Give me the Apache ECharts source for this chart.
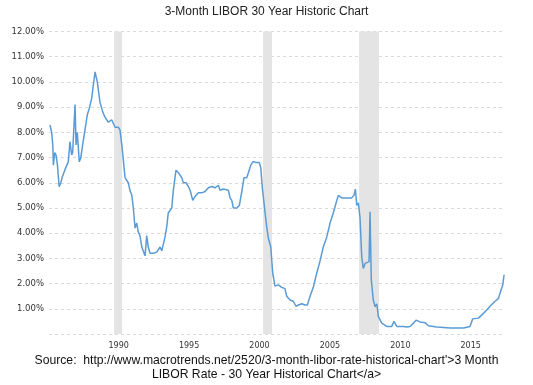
<!DOCTYPE html>
<html>
<head>
<meta charset="utf-8">
<script src="https://cdn.jsdelivr.net/npm/echarts@6/dist/echarts.min.js"></script>
<style>
  html, body { margin: 0; padding: 0; background: #fff; }
  #chart { width: 533px; height: 385px; }
</style>
</head>
<body>
<div id="chart"></div>
<script>
// Decimal-year positions of readings and 3-month LIBOR (%) values
var years = [
  1986.02, 1986.14, 1986.22, 1986.26, 1986.36, 1986.45, 1986.55, 1986.67, 1986.79, 1986.90,
  1987.02, 1987.14, 1987.32, 1987.44, 1987.56, 1987.63, 1987.80, 1987.87, 1987.96,
  1988.10, 1988.20, 1988.34, 1988.45, 1988.58, 1988.67, 1988.81, 1988.98,
  1989.06, 1989.22, 1989.38, 1989.57, 1989.77, 1989.93,
  1990.16, 1990.40, 1990.64, 1990.87, 1990.99,
  1991.12, 1991.23, 1991.35, 1991.47, 1991.58, 1991.70, 1991.83, 1991.94,
  1992.06, 1992.18, 1992.29, 1992.41, 1992.54, 1992.65, 1992.77, 1992.89,
  1993.00, 1993.13, 1993.36, 1993.60, 1993.71, 1993.84, 1993.96,
  1994.07, 1994.19, 1994.31, 1994.42, 1994.55, 1994.67, 1994.78, 1994.97,
  1995.14, 1995.38, 1995.49, 1995.68, 1995.85, 1995.97,
  1996.16, 1996.32, 1996.56, 1996.80,
  1997.03, 1997.15, 1997.27, 1997.51, 1997.74, 1997.98,
  1998.10, 1998.33, 1998.69, 1998.81, 1998.93,
  1999.04, 1999.28, 1999.47, 1999.64, 1999.80, 1999.99,
  2000.11, 2000.28, 2000.46, 2000.65, 2000.89, 2000.99,
  2001.10, 2001.29, 2001.41, 2001.53, 2001.70, 2001.84,
  2002.00, 2002.12, 2002.24, 2002.48, 2002.71, 2002.83,
  2003.07, 2003.30, 2003.49, 2003.66, 2003.90,
  2004.13, 2004.30, 2004.49, 2004.72, 2004.96,
  2005.20, 2005.43, 2005.68, 2005.91,
  2006.14, 2006.39, 2006.50, 2006.74,
  2007.10, 2007.45, 2007.61, 2007.71, 2007.81, 2007.92,
  2008.04, 2008.16, 2008.27, 2008.40, 2008.52, 2008.68, 2008.75, 2008.84, 2008.98,
  2009.11, 2009.23, 2009.34, 2009.58, 2009.94,
  2010.29, 2010.45, 2010.65,
  2011.12, 2011.36, 2011.59, 2011.83,
  2012.02, 2012.30, 2012.66, 2012.89,
  2013.49, 2014.43, 2015.38, 2015.85,
  2016.04, 2016.44, 2016.68,
  2017.04, 2017.27, 2017.63, 2017.86,
  2018.03, 2018.18, 2018.27
];
var rates = [
  8.29, 8.0, 7.5, 6.7, 7.2, 7.1, 6.7, 5.84, 6.0, 6.24,
  6.3, 6.6, 6.83, 7.63, 7.1, 7.2, 9.1, 7.5, 8.0,
  6.83, 6.97, 7.5, 7.9, 8.36, 8.7, 8.95, 9.35,
  9.7, 10.4, 10.0, 9.2, 8.8, 8.6,
  8.4, 8.5, 8.2, 8.2, 8.1,
  7.5, 6.9, 6.2, 6.2, 6.0, 5.7, 5.5, 5.0,
  4.2, 4.4, 4.05, 3.9, 3.45, 3.45, 3.1, 3.9,
  3.45, 3.2, 3.2, 3.25, 3.2, 3.45, 3.3,
  3.3, 3.85, 4.25, 4.8, 4.85, 5.0, 5.7, 6.5,
  6.4, 6.2, 6.0, 6.0, 5.85, 5.7,
  5.3, 5.45, 5.6, 5.6,
  5.65, 5.6, 5.8, 5.85, 5.8, 5.9,
  5.7, 5.75, 5.7, 5.4, 5.3,
  5.0, 5.0, 5.1, 5.65, 6.2, 6.2,
  6.4, 6.7, 6.85, 6.8, 6.8, 6.6,
  5.8, 4.85, 4.25, 3.8, 3.45, 2.4,
  1.9, 1.85, 1.95, 1.85, 1.8, 1.5,
  1.35, 1.3, 1.1, 1.15, 1.2,
  1.15, 1.15, 1.5, 1.85, 2.4,
  2.9, 3.45, 3.85, 4.4,
  4.8, 5.3, 5.5, 5.4,
  5.4, 5.4, 5.5, 5.75, 5.1, 5.2,
  4.6, 3.07, 2.6, 2.8, 2.75, 2.87, 4.85, 2.15, 1.35,
  1.08, 1.2, 0.7, 0.43, 0.3,
  0.3, 0.5, 0.3,
  0.3, 0.28, 0.3, 0.43,
  0.55, 0.48, 0.45, 0.33,
  0.28, 0.24, 0.24, 0.3,
  0.6, 0.63, 0.75,
  0.95, 1.1, 1.3, 1.4,
  1.7, 1.95, 2.35
];
// Recession periods (decimal years)
var recessionStart = [1990.57, 2001.15, 2007.97];
var recessionEnd   = [1991.14, 2001.79, 2009.39];
// Year tick labels and where they sit (labels appear offset into the year)
var tickYears = [1990, 1995, 2000, 2005, 2010, 2015];
var tickPositions = [1990.9, 1995.9, 2000.9, 2005.9, 2010.9, 2015.9];

var titleText = '3-Month LIBOR 30 Year Historic Chart';
var sourceText = "Source:  http://www.macrotrends.net/2520/3-month-libor-rate-historical-chart'>3 Month\nLIBOR Rate - 30 Year Historical Chart</a>";

var lineData = years.map(function (y, i) { return [y, rates[i]]; });
var areas = recessionStart.map(function (s, i) { return [{ xAxis: s }, { xAxis: recessionEnd[i] }]; });

var chart = echarts.init(document.getElementById('chart'), null, { renderer: 'canvas' });
chart.setOption({
  animation: false,
  backgroundColor: '#ffffff',
  title: [
    {
      text: titleText,
      left: 'center',
      top: 1,
      textStyle: { fontFamily: 'Liberation Sans', fontSize: 12, fontWeight: 'normal', color: '#222' }
    },
    {
      text: sourceText,
      left: 'center',
      top: 354,
      padding: 0,
      textStyle: { fontFamily: 'Liberation Sans', fontSize: 12.2, fontWeight: 'normal', color: '#111', lineHeight: 14 }
    }
  ],
  grid: { left: 49, right: 28.5, top: 31.5, bottom: 51, containLabel: false },
  xAxis: {
    type: 'value',
    min: 1985.95,
    max: 2018.3,
    axisLine: { show: false },
    axisTick: { show: false },
    splitLine: { show: false },
    axisLabel: {
      customValues: tickPositions,
      formatter: function (v) {
        var idx = tickPositions.indexOf(v);
        return idx >= 0 ? String(tickYears[idx]) : '';
      },
      fontFamily: 'DejaVu Sans',
      fontSize: 8,
      color: '#333',
      margin: 8
    }
  },
  yAxis: {
    type: 'value',
    min: 0,
    max: 12,
    interval: 1,
    axisLine: { show: false },
    axisTick: { show: false },
    splitLine: { show: true, lineStyle: { color: '#dadada', type: [3, 3], width: 1 } },
    axisLabel: {
      formatter: function (v) { return v === 0 ? '' : v.toFixed(2) + '%'; },
      fontFamily: 'DejaVu Sans',
      fontSize: 8.5,
      color: '#333',
      margin: 5
    }
  },
  series: [{
    type: 'line',
    data: lineData,
    showSymbol: false,
    lineStyle: { color: '#5b9bd5', width: 1.5 },
    itemStyle: { color: '#5b9bd5' },
    markArea: {
      silent: true,
      itemStyle: { color: '#e4e4e4' },
      data: areas
    }
  }]
});
</script>
</body>
</html>
